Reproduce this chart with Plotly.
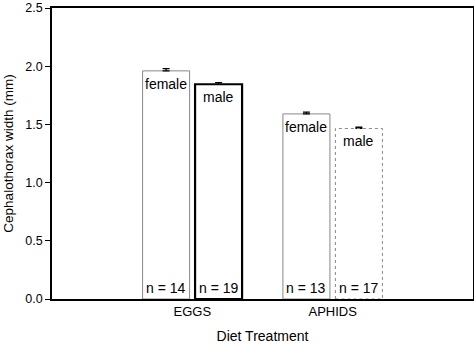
import plotly.graph_objects as go

categories = ["EGGS", "APHIDS"]
sexes = ["female", "male"]
female_means = [1.96, 1.59]
male_means = [1.845, 1.465]
female_se = [0.02, 0.015]
male_se = [0.015, 0.012]
female_n = [14, 13]
male_n = [19, 17]
y_ticks = [0.0, 0.5, 1.0, 1.5, 2.0, 2.5]

cat_x = [1, 2]
offset = 0.187
width = 0.335

fig = go.Figure()

# Bars: (x, value, se, n, label, line color, line width, dash)
bars = [
    (cat_x[0] - offset, female_means[0], female_se[0], female_n[0], "female", "#888888", 1, None),
    (cat_x[0] + offset, male_means[0], male_se[0], male_n[0], "male", "#000000", 2.2, None),
    (cat_x[1] - offset, female_means[1], female_se[1], female_n[1], "female", "#888888", 1, None),
    (cat_x[1] + offset, male_means[1], male_se[1], male_n[1], "male", "#888888", 1, "dot"),
]

for x, v, se, n, lab, lc, lw, dash in bars:
    fig.add_trace(go.Bar(
        x=[x], y=[v], width=width,
        marker=dict(color="white",
                    line=dict(color=lc if dash is None else "rgba(0,0,0,0)", width=lw)),
        error_y=dict(type="data", array=[se], arrayminus=[0], symmetric=False,
                     color="black", thickness=1.2, width=3.5),
        showlegend=False, hoverinfo="skip",
    ))
    if dash is not None:
        x0, x1 = x - width / 2, x + width / 2
        fig.add_trace(go.Scatter(
            x=[x0, x0, x1, x1, x0], y=[0, v, v, 0, 0], mode="lines",
            line=dict(color=lc, width=lw, dash=dash),
            showlegend=False, hoverinfo="skip",
        ))
    fig.add_annotation(x=x, y=v, text=lab, showarrow=False, yanchor="top",
                       yshift=-3, font=dict(size=14, color="black"))
    fig.add_annotation(x=x, y=0, text=f"n = {n}", showarrow=False, yanchor="bottom",
                       yshift=1, font=dict(size=14, color="black"))

fig.update_layout(
    width=474, height=344,
    margin=dict(l=52, r=1, t=8, b=45),
    plot_bgcolor="white", paper_bgcolor="white",
    font=dict(family="Liberation Sans, Arial, sans-serif", color="black", size=12),
    barmode="overlay",
    xaxis=dict(range=[0, 3], tickvals=cat_x, ticktext=categories, ticks="",
               showgrid=False, zeroline=False, showline=True, linecolor="black",
               linewidth=1.5, mirror=True, tickfont=dict(size=13), automargin=False,
               title=dict(text="Diet Treatment", font=dict(size=14), standoff=16)),
    yaxis=dict(range=[0, 2.5], tickvals=y_ticks, tickformat=".1f", ticks="outside",
               ticklen=5, tickcolor="black", showgrid=False, zeroline=False,
               showline=True, linecolor="black", linewidth=1.5, mirror=True,
               tickfont=dict(size=12.5), ticklabeloverflow="allow", automargin=False,
               title=dict(text="Cephalothorax width (mm)", font=dict(size=13.5), standoff=9)),
)

fig.write_html("out.html")
